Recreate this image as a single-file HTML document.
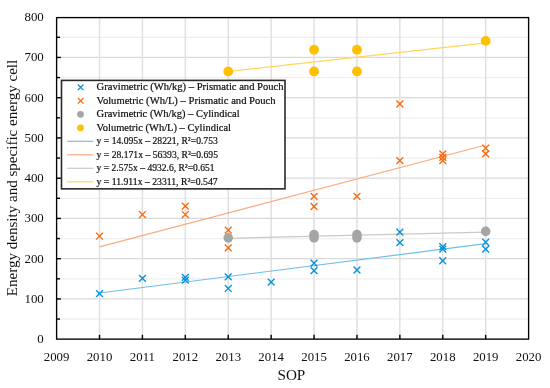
<!DOCTYPE html><html><head><meta charset="utf-8"><style>html,body{margin:0;padding:0;background:#fff;}svg{display:block;}text{font-family:"Liberation Serif",serif;fill:#111;}</style></head><body>
<svg width="550" height="388" viewBox="0 0 550 388">
<line x1="56.6" y1="319.07" x2="528.6" y2="319.07" stroke="#efefef" stroke-width="1.2"/><line x1="56.6" y1="298.95" x2="528.6" y2="298.95" stroke="#d9d9d9" stroke-width="1.3"/><line x1="56.6" y1="278.82" x2="528.6" y2="278.82" stroke="#efefef" stroke-width="1.2"/><line x1="56.6" y1="258.70" x2="528.6" y2="258.70" stroke="#d9d9d9" stroke-width="1.3"/><line x1="56.6" y1="238.57" x2="528.6" y2="238.57" stroke="#efefef" stroke-width="1.2"/><line x1="56.6" y1="218.45" x2="528.6" y2="218.45" stroke="#d9d9d9" stroke-width="1.3"/><line x1="56.6" y1="198.32" x2="528.6" y2="198.32" stroke="#efefef" stroke-width="1.2"/><line x1="56.6" y1="178.20" x2="528.6" y2="178.20" stroke="#d9d9d9" stroke-width="1.3"/><line x1="56.6" y1="158.07" x2="528.6" y2="158.07" stroke="#efefef" stroke-width="1.2"/><line x1="56.6" y1="137.95" x2="528.6" y2="137.95" stroke="#d9d9d9" stroke-width="1.3"/><line x1="56.6" y1="117.82" x2="528.6" y2="117.82" stroke="#efefef" stroke-width="1.2"/><line x1="56.6" y1="97.70" x2="528.6" y2="97.70" stroke="#d9d9d9" stroke-width="1.3"/><line x1="56.6" y1="77.57" x2="528.6" y2="77.57" stroke="#efefef" stroke-width="1.2"/><line x1="56.6" y1="57.45" x2="528.6" y2="57.45" stroke="#d9d9d9" stroke-width="1.3"/><line x1="56.6" y1="37.32" x2="528.6" y2="37.32" stroke="#efefef" stroke-width="1.2"/><line x1="99.51" y1="17.6" x2="99.51" y2="339.12" stroke="#e0e0e0" stroke-width="1.5"/><line x1="142.42" y1="17.6" x2="142.42" y2="339.12" stroke="#e0e0e0" stroke-width="1.5"/><line x1="185.33" y1="17.6" x2="185.33" y2="339.12" stroke="#e0e0e0" stroke-width="1.5"/><line x1="228.24" y1="17.6" x2="228.24" y2="339.12" stroke="#e0e0e0" stroke-width="1.5"/><line x1="271.15" y1="17.6" x2="271.15" y2="339.12" stroke="#e0e0e0" stroke-width="1.5"/><line x1="314.05" y1="17.6" x2="314.05" y2="339.12" stroke="#e0e0e0" stroke-width="1.5"/><line x1="356.96" y1="17.6" x2="356.96" y2="339.12" stroke="#e0e0e0" stroke-width="1.5"/><line x1="399.87" y1="17.6" x2="399.87" y2="339.12" stroke="#e0e0e0" stroke-width="1.5"/><line x1="442.78" y1="17.6" x2="442.78" y2="339.12" stroke="#e0e0e0" stroke-width="1.5"/><line x1="485.69" y1="17.6" x2="485.69" y2="339.12" stroke="#e0e0e0" stroke-width="1.5"/>
<line x1="56.6" y1="319.07" x2="60.0" y2="319.07" stroke="#000" stroke-width="1.4"/><line x1="56.6" y1="298.95" x2="60.9" y2="298.95" stroke="#000" stroke-width="1.4"/><line x1="56.6" y1="278.82" x2="60.0" y2="278.82" stroke="#000" stroke-width="1.4"/><line x1="56.6" y1="258.70" x2="60.9" y2="258.70" stroke="#000" stroke-width="1.4"/><line x1="56.6" y1="238.57" x2="60.0" y2="238.57" stroke="#000" stroke-width="1.4"/><line x1="56.6" y1="218.45" x2="60.9" y2="218.45" stroke="#000" stroke-width="1.4"/><line x1="56.6" y1="198.32" x2="60.0" y2="198.32" stroke="#000" stroke-width="1.4"/><line x1="56.6" y1="178.20" x2="60.9" y2="178.20" stroke="#000" stroke-width="1.4"/><line x1="56.6" y1="158.07" x2="60.0" y2="158.07" stroke="#000" stroke-width="1.4"/><line x1="56.6" y1="137.95" x2="60.9" y2="137.95" stroke="#000" stroke-width="1.4"/><line x1="56.6" y1="117.82" x2="60.0" y2="117.82" stroke="#000" stroke-width="1.4"/><line x1="56.6" y1="97.70" x2="60.9" y2="97.70" stroke="#000" stroke-width="1.4"/><line x1="56.6" y1="77.57" x2="60.0" y2="77.57" stroke="#000" stroke-width="1.4"/><line x1="56.6" y1="57.45" x2="60.9" y2="57.45" stroke="#000" stroke-width="1.4"/><line x1="56.6" y1="37.32" x2="60.0" y2="37.32" stroke="#000" stroke-width="1.4"/><line x1="99.51" y1="339.12" x2="99.51" y2="334.82" stroke="#000" stroke-width="1.4"/><line x1="142.42" y1="339.12" x2="142.42" y2="334.82" stroke="#000" stroke-width="1.4"/><line x1="185.33" y1="339.12" x2="185.33" y2="334.82" stroke="#000" stroke-width="1.4"/><line x1="228.24" y1="339.12" x2="228.24" y2="334.82" stroke="#000" stroke-width="1.4"/><line x1="271.15" y1="339.12" x2="271.15" y2="334.82" stroke="#000" stroke-width="1.4"/><line x1="314.05" y1="339.12" x2="314.05" y2="334.82" stroke="#000" stroke-width="1.4"/><line x1="356.96" y1="339.12" x2="356.96" y2="334.82" stroke="#000" stroke-width="1.4"/><line x1="399.87" y1="339.12" x2="399.87" y2="334.82" stroke="#000" stroke-width="1.4"/><line x1="442.78" y1="339.12" x2="442.78" y2="334.82" stroke="#000" stroke-width="1.4"/><line x1="485.69" y1="339.12" x2="485.69" y2="334.82" stroke="#000" stroke-width="1.4"/>
<line x1="99.51" y1="292.98" x2="485.69" y2="243.67" stroke="#6EBFEA" stroke-width="1.2"/>
<line x1="99.51" y1="246.88" x2="485.69" y2="144.98" stroke="#F8AC7C" stroke-width="1.2"/>
<line x1="228.24" y1="238.29" x2="485.69" y2="232.08" stroke="#C9C9C9" stroke-width="1.2"/>
<line x1="228.24" y1="71.52" x2="485.69" y2="42.80" stroke="#FFD65A" stroke-width="1.2"/>
<path d="M96.11 290.31L102.91 297.11M96.11 297.11L102.91 290.31" stroke="#0A93D7" stroke-width="1.4" fill="none"/><path d="M139.02 275.03L145.82 281.83M139.02 281.83L145.82 275.03" stroke="#0A93D7" stroke-width="1.4" fill="none"/><path d="M181.93 274.03L188.73 280.83M181.93 280.83L188.73 274.03" stroke="#0A93D7" stroke-width="1.4" fill="none"/><path d="M181.93 276.64L188.73 283.44M181.93 283.44L188.73 276.64" stroke="#0A93D7" stroke-width="1.4" fill="none"/><path d="M224.84 273.43L231.64 280.23M224.84 280.23L231.64 273.43" stroke="#0A93D7" stroke-width="1.4" fill="none"/><path d="M224.84 285.08L231.64 291.88M224.84 291.88L231.64 285.08" stroke="#0A93D7" stroke-width="1.4" fill="none"/><path d="M267.75 278.65L274.55 285.45M267.75 285.45L274.55 278.65" stroke="#0A93D7" stroke-width="1.4" fill="none"/><path d="M310.65 259.76L317.45 266.56M310.65 266.56L317.45 259.76" stroke="#0A93D7" stroke-width="1.4" fill="none"/><path d="M310.65 267.20L317.45 274.00M310.65 274.00L317.45 267.20" stroke="#0A93D7" stroke-width="1.4" fill="none"/><path d="M353.56 266.59L360.36 273.39M353.56 273.39L360.36 266.59" stroke="#0A93D7" stroke-width="1.4" fill="none"/><path d="M396.47 228.81L403.27 235.61M396.47 235.61L403.27 228.81" stroke="#0A93D7" stroke-width="1.4" fill="none"/><path d="M396.47 239.26L403.27 246.06M396.47 246.06L403.27 239.26" stroke="#0A93D7" stroke-width="1.4" fill="none"/><path d="M439.38 243.28L446.18 250.08M439.38 250.08L446.18 243.28" stroke="#0A93D7" stroke-width="1.4" fill="none"/><path d="M439.38 245.69L446.18 252.49M439.38 252.49L446.18 245.69" stroke="#0A93D7" stroke-width="1.4" fill="none"/><path d="M439.38 257.35L446.18 264.15M439.38 264.15L446.18 257.35" stroke="#0A93D7" stroke-width="1.4" fill="none"/><path d="M482.29 238.86L489.09 245.66M482.29 245.66L489.09 238.86" stroke="#0A93D7" stroke-width="1.4" fill="none"/><path d="M482.29 245.69L489.09 252.49M482.29 252.49L489.09 245.69" stroke="#0A93D7" stroke-width="1.4" fill="none"/><path d="M96.11 232.83L102.91 239.63M96.11 239.63L102.91 232.83" stroke="#FA6B0C" stroke-width="1.4" fill="none"/><path d="M139.02 211.13L145.82 217.93M139.02 217.93L145.82 211.13" stroke="#FA6B0C" stroke-width="1.4" fill="none"/><path d="M181.93 202.69L188.73 209.49M181.93 209.49L188.73 202.69" stroke="#FA6B0C" stroke-width="1.4" fill="none"/><path d="M181.93 211.13L188.73 217.93M181.93 217.93L188.73 211.13" stroke="#FA6B0C" stroke-width="1.4" fill="none"/><path d="M224.84 226.81L231.64 233.61M224.84 233.61L231.64 226.81" stroke="#FA6B0C" stroke-width="1.4" fill="none"/><path d="M224.84 244.49L231.64 251.29M224.84 251.29L231.64 244.49" stroke="#FA6B0C" stroke-width="1.4" fill="none"/><path d="M310.65 193.05L317.45 199.85M310.65 199.85L317.45 193.05" stroke="#FA6B0C" stroke-width="1.4" fill="none"/><path d="M310.65 203.09L317.45 209.89M310.65 209.89L317.45 203.09" stroke="#FA6B0C" stroke-width="1.4" fill="none"/><path d="M353.56 193.05L360.36 199.85M353.56 199.85L360.36 193.05" stroke="#FA6B0C" stroke-width="1.4" fill="none"/><path d="M396.47 100.61L403.27 107.41M396.47 107.41L403.27 100.61" stroke="#FA6B0C" stroke-width="1.4" fill="none"/><path d="M396.47 157.28L403.27 164.08M396.47 164.08L403.27 157.28" stroke="#FA6B0C" stroke-width="1.4" fill="none"/><path d="M439.38 150.44L446.18 157.24M439.38 157.24L446.18 150.44" stroke="#FA6B0C" stroke-width="1.4" fill="none"/><path d="M439.38 154.06L446.18 160.86M439.38 160.86L446.18 154.06" stroke="#FA6B0C" stroke-width="1.4" fill="none"/><path d="M439.38 157.28L446.18 164.08M439.38 164.08L446.18 157.28" stroke="#FA6B0C" stroke-width="1.4" fill="none"/><path d="M482.29 144.82L489.09 151.62M482.29 151.62L489.09 144.82" stroke="#FA6B0C" stroke-width="1.4" fill="none"/><path d="M482.29 150.44L489.09 157.24M482.29 157.24L489.09 150.44" stroke="#FA6B0C" stroke-width="1.4" fill="none"/><circle cx="228.24" cy="237.84" r="4.8" fill="#A5A5A5"/><circle cx="314.05" cy="234.63" r="4.8" fill="#A5A5A5"/><circle cx="314.05" cy="237.84" r="4.8" fill="#A5A5A5"/><circle cx="356.96" cy="234.63" r="4.8" fill="#A5A5A5"/><circle cx="356.96" cy="237.84" r="4.8" fill="#A5A5A5"/><circle cx="485.69" cy="231.41" r="4.8" fill="#A5A5A5"/><circle cx="228.24" cy="71.45" r="4.9" fill="#FFC000"/><circle cx="314.05" cy="49.75" r="4.9" fill="#FFC000"/><circle cx="314.05" cy="71.45" r="4.9" fill="#FFC000"/><circle cx="356.96" cy="49.75" r="4.9" fill="#FFC000"/><circle cx="356.96" cy="71.45" r="4.9" fill="#FFC000"/><circle cx="485.69" cy="40.91" r="4.9" fill="#FFC000"/>
<rect x="56.6" y="17.6" width="472.00" height="321.52" fill="none" stroke="#000" stroke-width="1.35"/>
<text x="43.8" y="343.00" font-size="12.9" text-anchor="end">0</text><text x="43.8" y="302.75" font-size="12.9" text-anchor="end">100</text><text x="43.8" y="262.50" font-size="12.9" text-anchor="end">200</text><text x="43.8" y="222.25" font-size="12.9" text-anchor="end">300</text><text x="43.8" y="182.00" font-size="12.9" text-anchor="end">400</text><text x="43.8" y="141.75" font-size="12.9" text-anchor="end">500</text><text x="43.8" y="101.50" font-size="12.9" text-anchor="end">600</text><text x="43.8" y="61.25" font-size="12.9" text-anchor="end">700</text><text x="43.8" y="21.00" font-size="12.9" text-anchor="end">800</text><text x="56.60" y="361.4" font-size="12.8" text-anchor="middle">2009</text><text x="99.51" y="361.4" font-size="12.8" text-anchor="middle">2010</text><text x="142.42" y="361.4" font-size="12.8" text-anchor="middle">2011</text><text x="185.33" y="361.4" font-size="12.8" text-anchor="middle">2012</text><text x="228.24" y="361.4" font-size="12.8" text-anchor="middle">2013</text><text x="271.15" y="361.4" font-size="12.8" text-anchor="middle">2014</text><text x="314.05" y="361.4" font-size="12.8" text-anchor="middle">2015</text><text x="356.96" y="361.4" font-size="12.8" text-anchor="middle">2016</text><text x="399.87" y="361.4" font-size="12.8" text-anchor="middle">2017</text><text x="442.78" y="361.4" font-size="12.8" text-anchor="middle">2018</text><text x="485.69" y="361.4" font-size="12.8" text-anchor="middle">2019</text><text x="528.60" y="361.4" font-size="12.8" text-anchor="middle">2020</text>
<text x="291.4" y="380.4" font-size="15.2" text-anchor="middle">SOP</text>
<text transform="translate(16.9,296.2) rotate(-90)" font-size="15" textLength="236.4" lengthAdjust="spacingAndGlyphs">Energy density and specific energy cell</text>
<rect x="61.5" y="80.4" width="223.50" height="108.45" fill="#fff" stroke="#2a2a2a" stroke-width="1.6"/>
<text x="96.6" y="90.20" font-size="10.4" stroke="#111" stroke-width="0.22" textLength="186.9" lengthAdjust="spacingAndGlyphs">Gravimetric (Wh/kg) – Prismatic and Pouch</text>
<path d="M77.90 84.50L83.50 90.10M77.90 90.10L83.50 84.50" stroke="#0A93D7" stroke-width="1.3" fill="none"/>
<text x="96.6" y="103.70" font-size="10.4" stroke="#111" stroke-width="0.22" textLength="179.0" lengthAdjust="spacingAndGlyphs">Volumetric (Wh/L) – Prismatic and Pouch</text>
<path d="M77.90 98.00L83.50 103.60M77.90 103.60L83.50 98.00" stroke="#FA6B0C" stroke-width="1.3" fill="none"/>
<text x="96.6" y="117.20" font-size="10.4" stroke="#111" stroke-width="0.22" textLength="143.0" lengthAdjust="spacingAndGlyphs">Gravimetric (Wh/kg) – Cylindical</text>
<circle cx="80.5" cy="114.3" r="3.4" fill="#A5A5A5"/>
<text x="96.6" y="130.70" font-size="10.4" stroke="#111" stroke-width="0.22" textLength="134.4" lengthAdjust="spacingAndGlyphs">Volumetric (Wh/L) – Cylindical</text>
<circle cx="80.5" cy="127.8" r="3.4" fill="#FFC000"/>
<text x="96.6" y="144.20" font-size="10.4" stroke="#111" stroke-width="0.22" textLength="121.2" lengthAdjust="spacingAndGlyphs">y = 14.095x – 28221, R²=0.753</text>
<line x1="67.2" y1="141.3" x2="93.3" y2="141.3" stroke="#6EBFEA" stroke-width="1.2"/>
<text x="96.6" y="157.70" font-size="10.4" stroke="#111" stroke-width="0.22" textLength="121.4" lengthAdjust="spacingAndGlyphs">y = 28.171x – 56393, R²=0.695</text>
<line x1="67.2" y1="154.8" x2="93.3" y2="154.8" stroke="#F8AC7C" stroke-width="1.2"/>
<text x="96.6" y="171.20" font-size="10.4" stroke="#111" stroke-width="0.22" textLength="118.0" lengthAdjust="spacingAndGlyphs">y = 2.575x – 4932.6, R²=0.651</text>
<line x1="67.2" y1="168.3" x2="93.3" y2="168.3" stroke="#C9C9C9" stroke-width="1.2"/>
<text x="96.6" y="184.70" font-size="10.4" stroke="#111" stroke-width="0.22" textLength="121.0" lengthAdjust="spacingAndGlyphs">y = 11.911x – 23311, R²=0.547</text>
<line x1="67.2" y1="181.8" x2="93.3" y2="181.8" stroke="#FFD65A" stroke-width="1.2"/>
</svg></body></html>
